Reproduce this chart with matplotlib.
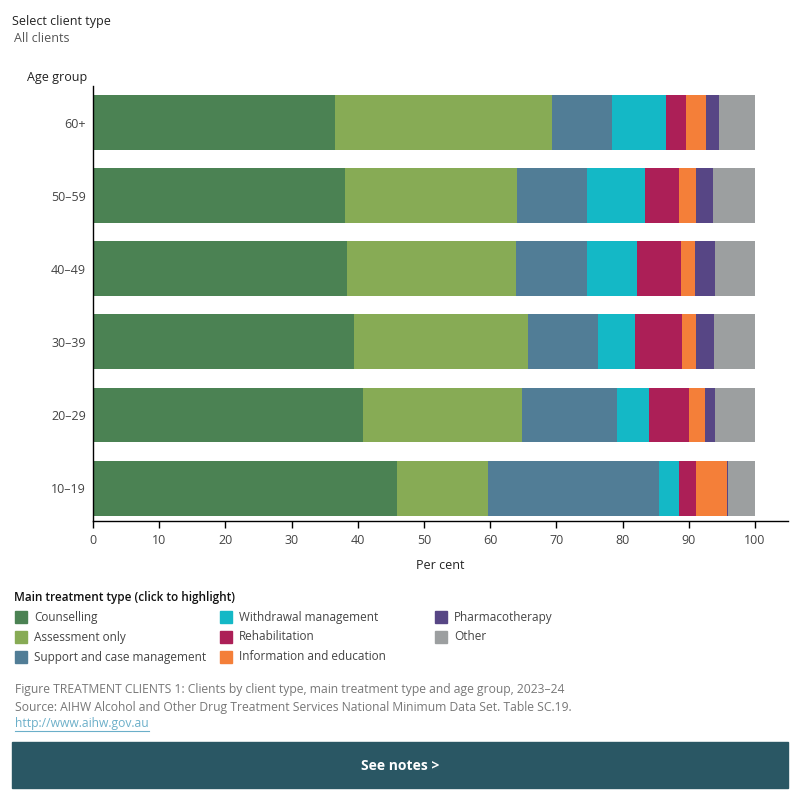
import matplotlib
matplotlib.use("Agg")
import matplotlib.pyplot as plt
from matplotlib.patches import Rectangle
import numpy as np

plt.rcParams['font.family'] = ['Open Sans', 'DejaVu Sans']

age_groups = ["10–19", "20–29", "30–39", "40–49", "50–59", "60+"]
treatments = ["Counselling", "Assessment only", "Support and case management",
              "Withdrawal management", "Rehabilitation", "Information and education",
              "Pharmacotherapy", "Other"]
colors = ["#4B8253", "#87AB55", "#517D96", "#14B8C6", "#AC1F57", "#F47F39", "#574685", "#9C9FA0"]

counselling = [45.9, 40.8, 39.4, 38.4, 38.1, 36.6]
assessment = [13.8, 24.0, 26.3, 25.5, 25.9, 32.7]
support = [25.8, 14.4, 10.6, 10.7, 10.6, 9.1]
withdrawal = [3.0, 4.8, 5.6, 7.6, 8.8, 8.2]
rehabilitation = [2.6, 6.0, 7.1, 6.6, 5.1, 3.0]
information = [4.7, 2.4, 2.1, 2.1, 2.6, 3.0]
pharmacotherapy = [0.2, 1.6, 2.7, 3.1, 2.6, 2.0]
other = [4.0, 6.0, 6.2, 6.0, 6.3, 5.4]

series = [counselling, assessment, support, withdrawal, rehabilitation,
          information, pharmacotherapy, other]

fig = plt.figure(figsize=(8, 8), dpi=100)
ax = fig.add_axes([93/800, 1-521/800, 695/800, 435/800])

y = np.arange(len(age_groups))
left = np.zeros(len(age_groups))
for vals, c, name in zip(series, colors, treatments):
    ax.barh(y, vals, left=left, height=0.75, color=c, label=name, linewidth=0)
    left += np.array(vals)

ax.set_xlim(0, 105)
ax.set_ylim(-0.45, 5.5)
ax.set_xticks(range(0, 101, 10))
ax.set_yticks(y)
ax.set_yticklabels(age_groups)
for s in ["top", "right"]:
    ax.spines[s].set_visible(False)
ax.spines["left"].set_linewidth(1.0)
ax.spines["bottom"].set_linewidth(1.0)
ax.tick_params(axis="y", length=0, pad=5, labelsize=9, labelcolor="#444444")
ax.tick_params(axis="x", length=5, width=1, pad=4, labelsize=9, labelcolor="#444444")
ax.set_xlabel("Per cent", fontsize=9, color="#222222", labelpad=9)

fig.text(12/800, 1-21/800, "Select client type", fontsize=9, color="#222222", va="center")
fig.text(14/800, 1-39/800, "All clients", fontsize=9, color="#555555", va="center")
fig.text(87/800, 1-77/800, "Age group", fontsize=9, color="#222222", va="center", ha="right")

# legend
fig.text(14/800, 1-598/800, "Main treatment type (click to highlight)", fontsize=8.5,
         color="#111111", va="center", fontweight="semibold")
col_x = [15, 220, 435]
row_y = [617, 637, 657]
order = [[0, 1, 2], [3, 4, 5], [6, 7]]
for ci, idxs in enumerate(order):
    for ri, idx in enumerate(idxs):
        x0 = col_x[ci]
        y0 = row_y[ri]
        fig.patches.append(Rectangle((x0/800, 1-(y0+6)/800), 12/800, 12/800,
                                     transform=fig.transFigure, color=colors[idx]))
        fig.text((x0+19)/800, 1-y0/800, treatments[idx], fontsize=8.5,
                 color="#444444", va="center")

fig.text(15/800, 1-690/800, "Figure TREATMENT CLIENTS 1: Clients by client type, main treatment type and age group, 2023–24",
         fontsize=8.7, color="#777777", va="center")
fig.text(15/800, 1-707/800, "Source: AIHW Alcohol and Other Drug Treatment Services National Minimum Data Set. Table SC.19.",
         fontsize=8.7, color="#777777", va="center")
link = fig.text(15/800, 1-723/800, "http://www.aihw.gov.au", fontsize=8.7, color="#6BAFC9",
                va="center")
fig.canvas.draw()
bb = link.get_window_extent()
fig.lines.append(plt.Line2D([bb.x0/800, bb.x1/800], [1-731/800, 1-731/800],
                            transform=fig.transFigure, color="#6BAFC9", linewidth=0.8))

fig.patches.append(Rectangle((12/800, 1-788/800), 776/800, 46/800,
                             transform=fig.transFigure, color="#2A5764"))
fig.text(400/800, 1-766/800, "See notes >", fontsize=10, color="white",
         fontweight="bold", ha="center", va="center")

fig.savefig("out.png", dpi=100)
